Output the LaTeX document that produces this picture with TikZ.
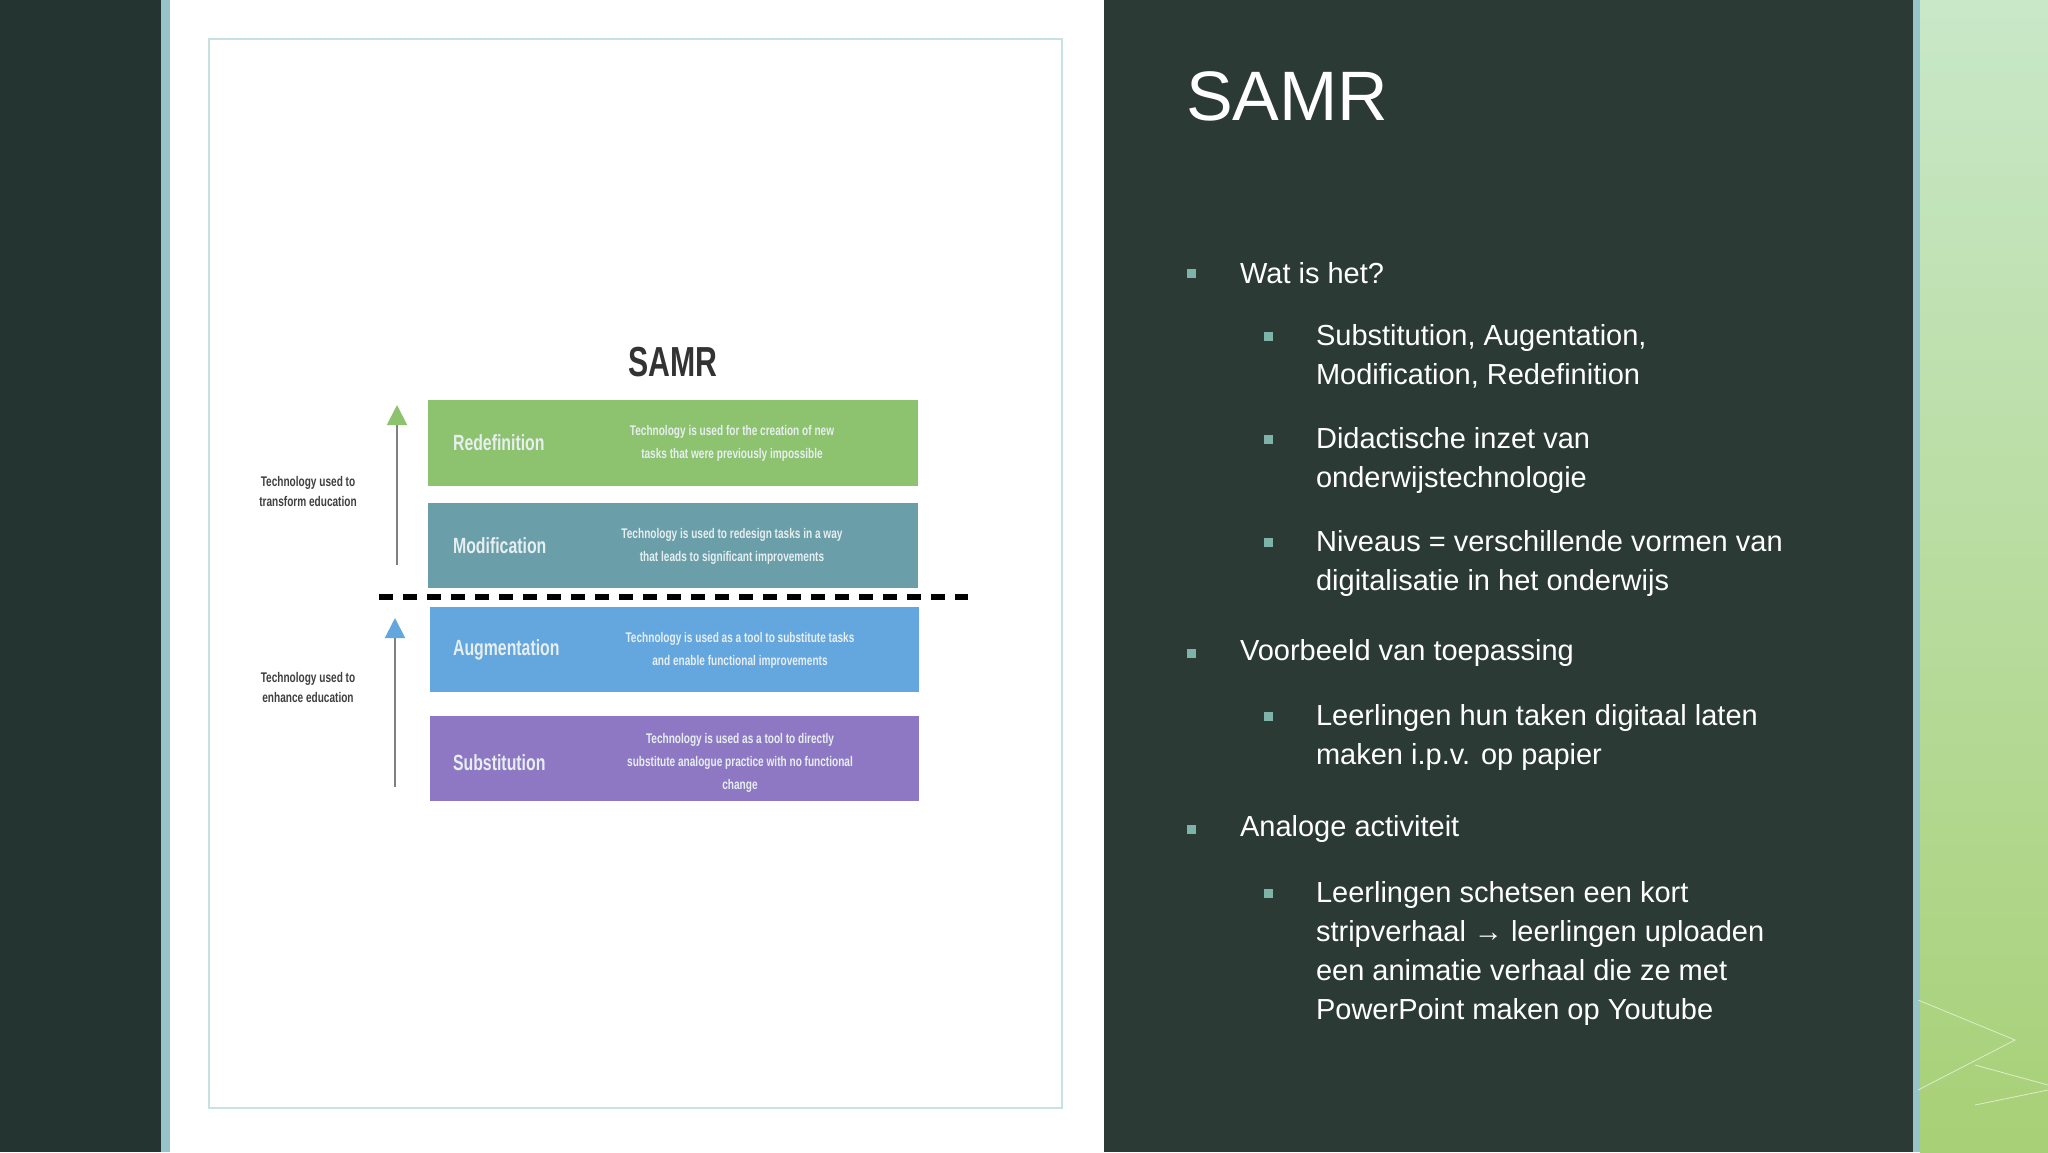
\documentclass[tikz,border=0pt]{standalone}
\usepackage{fontspec}
\setmainfont{Liberation Sans}
\newfontfamily\cond{Liberation Sans}[FakeStretch=0.72]
\usetikzlibrary{arrows.meta}
\definecolor{darkbg}{HTML}{243430}
\definecolor{panel}{HTML}{2B3A34}
\definecolor{cRed}{HTML}{8DC26F}
\definecolor{cMod}{HTML}{6A9EA8}
\definecolor{cAug}{HTML}{64A6DE}
\definecolor{cSub}{HTML}{8E78C4}
\definecolor{bul}{HTML}{7DB3A8}
\definecolor{boxtxt}{HTML}{E6EEF0}
\definecolor{stripe}{HTML}{96C4C8}
\definecolor{frame}{HTML}{C8E1E1}
\definecolor{gtop}{HTML}{C8E8C8}
\definecolor{gbot}{HTML}{A8D076}
\begin{document}
\begin{tikzpicture}[x=0.5pt,y=-0.5pt,
  box/.style={fill=#1,draw=none},
  lvl/.style={anchor=west,text=boxtxt,font=\cond\fontsize{11}{13}\selectfont\bfseries},
  desc/.style={align=center,text=boxtxt,font=\cond\fontsize{7}{11.5}\selectfont\bfseries},
  side/.style={align=center,text=black!75,font=\cond\fontsize{7}{10}\selectfont\bfseries},
  b1/.style={anchor=west,text=white,font=\fontsize{14.5}{19.5}\selectfont,align=left},
  sq/.style={fill=bul,minimum size=4.5pt,inner sep=0pt}]
\useasboundingbox (0,0) rectangle (2048,1152);
\fill[darkbg] (0,0) rectangle (2048,1152);
\fill[stripe] (161,0) rectangle (170,1152);
\fill[white] (170,0) rectangle (1104,1152);
\draw[frame,line width=1pt] (209,39) rectangle (1062,1108);
\fill[panel] (1104,0) rectangle (1913,1152);
\fill[stripe] (1913,0) rectangle (1920,1152);
\shade[top color=gtop,bottom color=gbot] (1920,0) rectangle (2048,1152);
\draw[white,opacity=0.6] (1975,1065) -- (2048,1085) (1975,1105) -- (2048,1090) (1918,1000)--(2015,1040)--(1918,1090);
% diagram
\node[font=\cond\fontsize{21}{24}\selectfont\bfseries,text=black!80] (title) at (673,362) {SAMR};
\fill[box=cRed] (428,400) rectangle (918,486);
\fill[box=cMod] (428,503) rectangle (918,588);
\fill[box=cAug] (430,607) rectangle (919,692);
\fill[box=cSub] (430,716) rectangle (919,801);
\node[lvl] (r) at (446,443) {Redefinition};
\node[lvl] (m) at (446,546) {Modification};
\node[lvl] (a) at (446,650) {Augmentation};
\node[lvl] (s) at (446,763) {Substitution};
\node[desc] (rd) at (732,443) {Technology is used for the creation of new\\tasks that were previously impossible};
\node[desc] (md) at (732,546) {Technology is used to redesign tasks in a way\\that leads to significant improvements};
\node[desc] (ad) at (740,650) {Technology is used as a tool to substitute tasks\\and enable functional improvements};
\node[desc] (sd) at (740,763) {Technology is used as a tool to directly\\substitute analogue practice with no functional\\change};
\coordinate (d1) at (379,597); \coordinate (d2) at (968,597);
\draw[black,line width=2.6pt,dash pattern=on 7pt off 5pt] (d1) -- (d2);
\coordinate (u0) at (397,565); \coordinate (u1) at (397,405);
\coordinate (l0) at (395,787); \coordinate (l1) at (395,618);
\draw[gray,line width=1pt,-{Triangle[length=10pt,width=10pt,color=cRed]}] (u0) -- (u1);
\draw[gray,line width=1pt,-{Triangle[length=10pt,width=10pt,color=cAug]}] (l0) -- (l1);
\node[side] (t1) at (308,491) {Technology used to\\transform education};
\node[side] (t2) at (308,687) {Technology used to\\enhance education};
% right text
\node[anchor=west,text=white,font=\fontsize{35}{40}\selectfont] (h) at (1179,96) {SAMR};
\foreach \y in {273,653,829}{\node[sq] at (1191,\y) {};}
\foreach \y in {336,439,542,716,893}{\node[sq] at (1268,\y) {};}
\node[b1] (p1) at (1233,273) {Wat is het?};
\node[b1,anchor=north west] (p2) at (1309,317) {Substitution, Augentation,\\Modification, Redefinition};
\node[b1,anchor=north west] (p3) at (1309,420) {Didactische inzet van\\onderwijstechnologie};
\node[b1,anchor=north west] (p4) at (1309,523) {Niveaus = verschillende vormen van\\digitalisatie in het onderwijs};
\node[b1] (p5) at (1233,653) {Voorbeeld van toepassing};
\node[b1,anchor=north west] (p6) at (1309,697) {Leerlingen hun taken digitaal laten\\maken i.p.v. op papier};
\node[b1] (p7) at (1233,829) {Analoge activiteit};
\node[b1,anchor=north west] (p8) at (1309,874) {Leerlingen schetsen een kort\\stripverhaal → leerlingen uploaden\\een animatie verhaal die ze met\\PowerPoint maken op Youtube};
\end{tikzpicture}
\end{document}
